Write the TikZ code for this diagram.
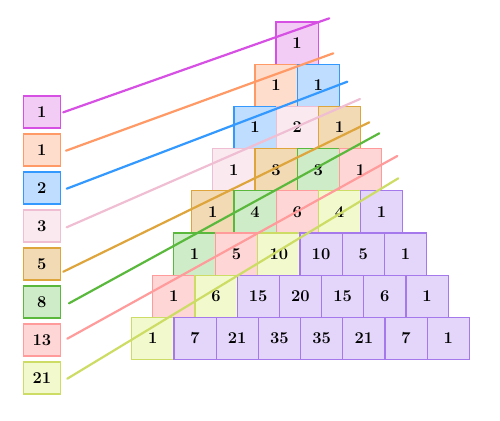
\documentclass[tikz,border=0pt]{standalone}
\definecolor{fa0}{HTML}{F3CCF6}\definecolor{da0}{HTML}{D651E3}
\definecolor{fa1}{HTML}{FFDDCC}\definecolor{da1}{HTML}{FF9966}
\definecolor{fa2}{HTML}{BFDDFF}\definecolor{da2}{HTML}{3399FF}
\definecolor{fa3}{HTML}{FAEAF0}\definecolor{da3}{HTML}{F0BED2}
\definecolor{fa4}{HTML}{F2DAB4}\definecolor{da4}{HTML}{DEA53C}
\definecolor{fa5}{HTML}{CFECC8}\definecolor{da5}{HTML}{5AB93C}
\definecolor{fa6}{HTML}{FFD6D6}\definecolor{da6}{HTML}{FF9B9B}
\definecolor{fa7}{HTML}{F2FACD}\definecolor{da7}{HTML}{CDDC64}
\definecolor{fa8}{HTML}{E4D6FA}\definecolor{da8}{HTML}{A578EB}
\begin{document}
\begin{tikzpicture}[x=1pt,y=-1pt,
  cell/.style={minimum width=42.2pt,minimum height=42.2pt,inner sep=0pt,outer sep=0pt,
    line width=1.2pt,anchor=north west,font=\fontsize{16.5}{16.5}\selectfont\bfseries},
  lab/.style={minimum width=37pt,minimum height=32pt,inner sep=0pt,outer sep=0pt,
    line width=1.5pt,font=\fontsize{16.5}{16.5}\selectfont\bfseries},
  fib/.style={line width=2.2pt,line cap=round}]
\useasboundingbox (0,0) rectangle (500,420);
\foreach \r/\lx in {0/276,1/255,2/234,3/212.7,4/191.7,5/173.3,6/152.7,7/131.7}{
  \foreach \k in {0,...,\r}{
    \pgfmathtruncatemacro\v{factorial(\r)/(factorial(\k)*factorial(\r-\k))}
    \pgfmathtruncatemacro\c{min(\r+\k,8)}
    \node[cell,fill=fa\c,draw=da\c] (c-\r-\k) at ({\lx+42.2*\k},{22+42.2*\r}) {\v};
  }
}
\foreach \i/\f in {0/1,1/1,2/2,3/3,4/5,5/8,6/13,7/21}{
  \node[lab,fill=fa\i,draw=da\i] (f\i) at (41.8,{112+38*\i}) {\f};
}
\foreach \i/\sx/\sy/\ex/\ey in {0/63.3/112.3/329.3/18.3, 1/66/150.7/333.3/53.3,
  2/66.7/188.7/347.3/81.7, 3/66.7/227.3/360/99, 4/63.3/271.7/369.3/122.3,
  5/69/303.3/379.3/133.3, 6/67.3/338.7/397.3/156, 7/67.3/378.7/398.3/178.3}{
  \coordinate (s\i) at (\sx,\sy);
  \coordinate (e\i) at (\ex,\ey);
  \draw[fib,draw=da\i] (s\i) -- (e\i);
}
\end{tikzpicture}
\end{document}
